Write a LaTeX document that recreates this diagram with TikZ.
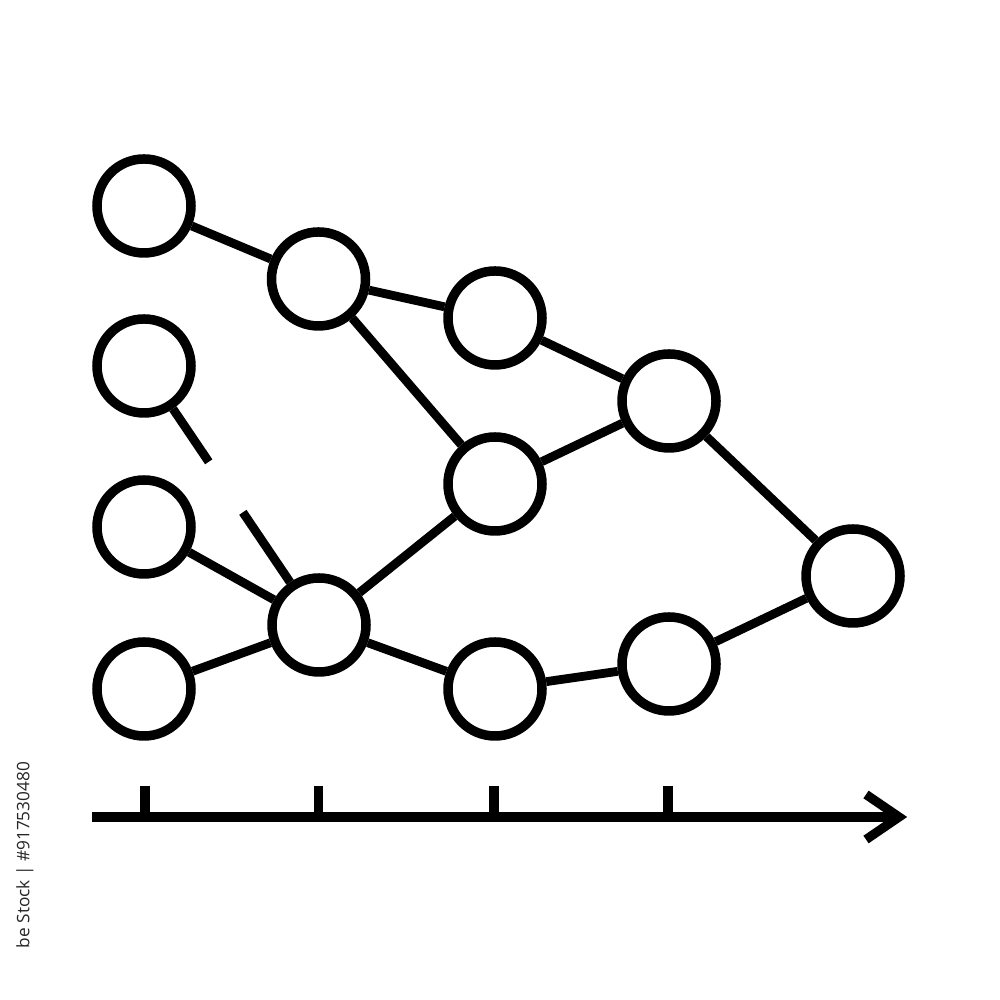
\documentclass[tikz,border=0pt]{standalone}
\usepackage{fontspec}
\newfontfamily\sidefont{Open Sans}
\usetikzlibrary{calc}
\begin{document}
\begin{tikzpicture}[
  x=1cm,y=1cm,
  dot/.style={circle,draw=black,fill=white,line width=0.095cm,minimum size=0.94cm,inner sep=0pt},
  link/.style={draw=black,line width=0.088cm},
  axisline/.style={draw=black,line width=0.092cm},
]
\useasboundingbox (0,0) rectangle (10,10);
% nodes
\node[dot] (A) at (1.44,7.94) {};
\node[dot] (B) at (3.185,7.21) {};
\node[dot] (C) at (4.95,6.82) {};
\node[dot] (D) at (6.69,5.99) {};
\node[dot] (E) at (1.44,6.34) {};
\node[dot] (F) at (4.95,5.16) {};
\node[dot] (G) at (1.44,4.73) {};
\node[dot] (H) at (3.19,3.75) {};
\node[dot] (I) at (8.53,4.24) {};
\node[dot] (J) at (1.44,3.11) {};
\node[dot] (K) at (4.95,3.11) {};
\node[dot] (L) at (6.69,3.36) {};
% links
\draw[link] (A) -- (B);
\draw[link] (B) -- (C);
\draw[link] (C) -- (D);
\draw[link] (B) -- (F);
\draw[link] (F) -- (D);
\draw[link] (D) -- (I);
\draw[link] (G) -- (H);
\draw[link] (J) -- (H);
\draw[link] (H) -- (F);
\draw[link] (H) -- (K);
\draw[link] (K) -- (L);
\draw[link] (L) -- (I);
% broken link E - H
\coordinate (g1) at ($(E)!0.37!(H)$);
\coordinate (g2) at ($(E)!0.565!(H)$);
\draw[link] (E) -- (g1);
\draw[link] (g2) -- (H);
% axis
\coordinate (ax0) at (0.92,1.83);
\coordinate (ax1) at (8.99,1.83);
\coordinate (aw1) at (8.66,2.055);
\coordinate (aw2) at (8.66,1.605);
\draw[axisline] (ax0) -- (ax1);
\draw[axisline,miter limit=4] (aw1) -- (ax1) -- (aw2);
\foreach \x/\n in {1.45/t1,3.185/t2,4.94/t3,6.68/t4}{
  \coordinate (\n a) at (\x,1.83);
  \coordinate (\n b) at (\x,2.14);
  \draw[axisline] (\n a) -- (\n b);
}
% side text
\node[rotate=90,text=black!85,font=\sidefont\fontsize{4.9pt}{6pt}\selectfont,inner sep=0pt] (side) at (0.25,1.45) {be Stock | \#917530480};
\end{tikzpicture}
\end{document}
